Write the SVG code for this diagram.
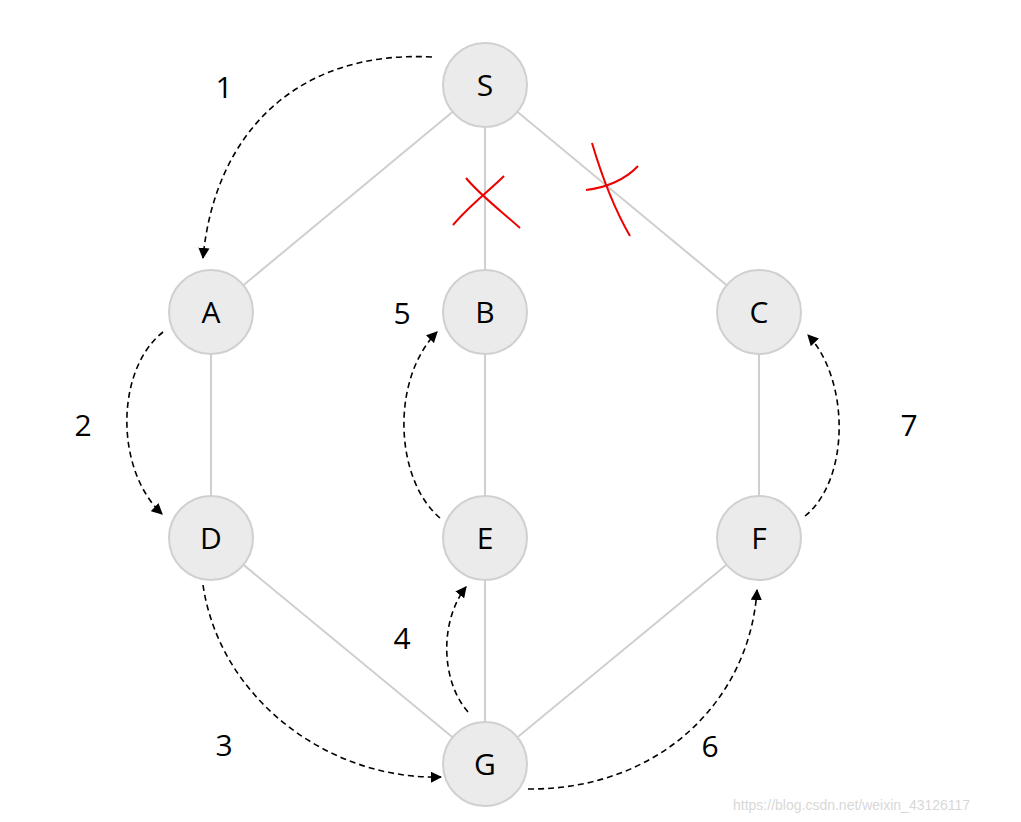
<svg xmlns="http://www.w3.org/2000/svg" width="1021" height="822" viewBox="0 0 1021 822">
<defs>
<marker id="ah" viewBox="0 0 10 10" refX="9" refY="5" markerWidth="7" markerHeight="7" orient="auto"><path d="M0,0L10,5L0,10z" fill="#000"/></marker>
<style>
.n{fill:#ebebeb;stroke:#d0d0d0;stroke-width:2}
.t{font-family:"Open Sans","DejaVu Sans",sans-serif;font-size:30px;fill:#000;text-anchor:middle}
.e{stroke:#cfcfcf;stroke-width:2;fill:none}
.d{stroke:#000;stroke-width:1.6;stroke-dasharray:6,4;fill:none;marker-end:url(#ah)}
.r{stroke:#e00;stroke-width:2;fill:none}
</style>
</defs>
<rect width="1021" height="822" fill="#fff"/>
<g id="edges">
<line class="e" x1="485" y1="85" x2="211" y2="312"/>
<line class="e" x1="485" y1="85" x2="485" y2="312"/>
<line class="e" x1="485" y1="85" x2="759" y2="312"/>
<line class="e" x1="211" y1="312" x2="211" y2="538"/>
<line class="e" x1="485" y1="312" x2="485" y2="538"/>
<line class="e" x1="759" y1="312" x2="759" y2="538"/>
<line class="e" x1="211" y1="538" x2="485" y2="764"/>
<line class="e" x1="485" y1="538" x2="485" y2="764"/>
<line class="e" x1="759" y1="538" x2="485" y2="764"/>
</g>
<g id="connectors">
<path class="d" d="M432,57 C300,50 215,130 203,258"/>
<path class="d" d="M163,332 C115,370 115,470 162,514"/>
<path class="d" d="M203,585 C220,700 330,780 441,777"/>
<path class="d" d="M468,712 C440,680 440,620 466,587"/>
<path class="d" d="M440,518 C395,480 390,380 437,332"/>
<path class="d" d="M528,789 C660,790 750,700 757,590"/>
<path class="d" d="M805,516 C850,480 850,380 808,335"/>
</g>
<g id="nodes">
<g id="S"><circle class="n" cx="485" cy="85" r="42"/><text class="t" x="485" y="96">S</text></g>
<g id="A"><circle class="n" cx="211" cy="312" r="42"/><text class="t" x="211" y="323">A</text></g>
<g id="B"><circle class="n" cx="485" cy="312" r="42"/><text class="t" x="485" y="323">B</text></g>
<g id="C"><circle class="n" cx="759" cy="312" r="42"/><text class="t" x="759" y="323">C</text></g>
<g id="D"><circle class="n" cx="211" cy="538" r="42"/><text class="t" x="211" y="549">D</text></g>
<g id="E"><circle class="n" cx="485" cy="538" r="42"/><text class="t" x="485" y="549">E</text></g>
<g id="F"><circle class="n" cx="759" cy="538" r="42"/><text class="t" x="759" y="549">F</text></g>
<g id="G"><circle class="n" cx="485" cy="764" r="42"/><text class="t" x="485" y="775">G</text></g>
</g>
<g id="labels">
<text class="t" x="224" y="98">1</text>
<text class="t" x="83" y="436">2</text>
<text class="t" x="224" y="756">3</text>
<text class="t" x="402" y="649">4</text>
<text class="t" x="402" y="324">5</text>
<text class="t" x="710" y="757">6</text>
<text class="t" x="909" y="436">7</text>
</g>
<g id="crosses">
<path class="r" d="M466,178 C480,195 500,210 520,228"/>
<path class="r" d="M504,176 C490,190 470,205 453,225"/>
<path class="r" d="M592,143 C600,170 612,205 630,236"/>
<path class="r" d="M586,190 C605,188 625,180 638,166"/>
</g>
<text x="733" y="810" font-family="Liberation Sans,sans-serif" font-size="14" fill="#d8d8d8">https://blog.csdn.net/weixin_43126117</text>
</svg>
